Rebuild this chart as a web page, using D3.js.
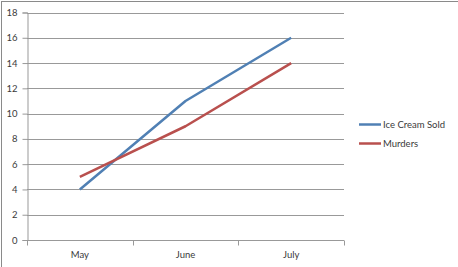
<!DOCTYPE html>
<html>
<head>
<meta charset="utf-8" />
<style>
  body { margin:0; background:#fff; }
  text { font-family: Lato, "Open Sans", sans-serif; fill:#3a3a3a; }
</style>
</head>
<body>
<div id="chart"></div>
<script src="https://d3js.org/d3.v7.min.js"></script>
<script>
const months = ["May", "June", "July"];
const iceCream = [4, 11, 16];
const murders = [5, 9, 14];
const yTicks = [0, 2, 4, 6, 8, 10, 12, 14, 16, 18];
const seriesNames = ["Ice Cream Sold", "Murders"];
const seriesColors = ["#5080b4", "#b9504e"];

let width = 458, height = 267;
let plotLeft = 27, plotRight = 344, plotTop = 12.5, plotBottom = 240;

let svg = d3.select("#chart").append("svg")
  .attr("width", width).attr("height", height);

// outer frame (only top/left edges show in picture)
svg.append("rect")
  .attr("x", 1.5).attr("y", 1.5)
  .attr("width", width + 10).attr("height", height + 10)
  .attr("fill", "none").attr("stroke", "#8a8a8a");

let x = d3.scaleBand().domain(months).range([plotLeft, plotRight]);
let y = d3.scaleLinear().domain([0, 18]).range([plotBottom, plotTop]);

// grid
svg.selectAll("line.grid")
  .data(yTicks.filter(d => d > 0))
  .enter().append("line")
  .attr("x1", plotLeft).attr("x2", plotRight)
  .attr("y1", d => Math.round(y(d)) + 0.5).attr("y2", d => Math.round(y(d)) + 0.5)
  .attr("stroke", "#999");

// y axis
let yAxis = svg.append("g")
  .attr("transform", `translate(${plotLeft + 0.5},0)`)
  .call(d3.axisLeft(y).tickValues(yTicks).tickSize(5).tickPadding(5));
yAxis.select(".domain").attr("stroke", "#999");
yAxis.selectAll(".tick line").attr("stroke", "#999");
yAxis.selectAll("text").style("font-size", "9.5px").attr("fill", "#3a3a3a");

// x axis with ticks at band boundaries
let xAxis = svg.append("g")
  .attr("transform", `translate(0,${plotBottom + 0.5})`);
xAxis.append("line")
  .attr("x1", plotLeft).attr("x2", plotRight)
  .attr("stroke", "#999");
let bounds = months.map(m => x(m)).concat([plotRight]);
xAxis.selectAll("line.tk").data(bounds).enter().append("line")
  .attr("x1", d => Math.round(d) + 0.5).attr("x2", d => Math.round(d) + 0.5)
  .attr("y1", 0).attr("y2", 5)
  .attr("stroke", "#999");
xAxis.selectAll("text").data(months).enter().append("text")
  .attr("x", d => x(d) + x.bandwidth() / 2)
  .attr("y", 17)
  .attr("text-anchor", "middle")
  .style("font-size", "9.5px")
  .text(d => d);

// lines
let line = d3.line()
  .x((d, i) => x(months[i]) + x.bandwidth() / 2)
  .y(d => y(d));

[iceCream, murders].forEach((s, i) => {
  svg.append("path")
    .attr("d", line(s))
    .attr("fill", "none")
    .attr("stroke", seriesColors[i])
    .attr("stroke-width", 2.5)
    .attr("stroke-linejoin", "round");
});

// legend
let legend = svg.append("g");
seriesNames.forEach((n, i) => {
  let ly = 124.5 + i * 19;
  legend.append("line")
    .attr("x1", 359).attr("x2", 381)
    .attr("y1", ly).attr("y2", ly)
    .attr("stroke", seriesColors[i]).attr("stroke-width", 2.5);
  legend.append("text")
    .attr("x", 383).attr("y", ly + 3.5)
    .style("font-size", "9.5px")
    .text(n);
});
</script>
</body>
</html>
